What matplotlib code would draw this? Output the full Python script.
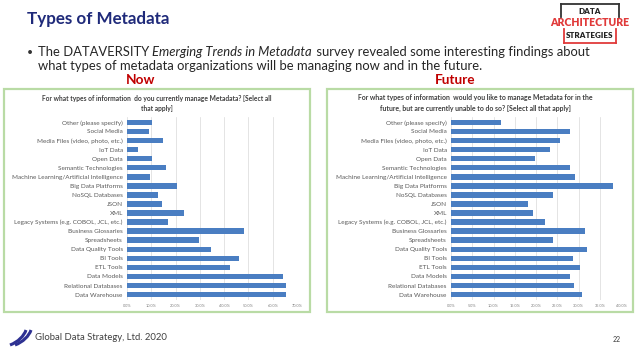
import matplotlib
matplotlib.use("Agg")
import matplotlib.pyplot as plt
from matplotlib.ticker import MultipleLocator, FuncFormatter
from matplotlib.lines import Line2D
from matplotlib.patches import Rectangle, PathPatch
from matplotlib.path import Path

W, H = 638, 359
DPI = 100

categories = [
    "Other (please specify)", "Social Media", "Media Files (video, photo, etc.)",
    "IoT Data", "Open Data", "Semantic Technologies",
    "Machine Learning/Artificial Intelligence", "Big Data Platforms",
    "NoSQL Databases", "JSON", "XML", "Legacy Systems (e.g. COBOL, JCL, etc.)",
    "Business Glossaries", "Spreadsheets", "Data Quality Tools", "BI Tools",
    "ETL Tools", "Data Models", "Relational Databases", "Data Warehouse",
]
now_values = [10.4, 8.9, 14.8, 4.6, 10.1, 15.9, 9.6, 20.5, 12.8, 14.3, 23.3, 16.9,
              48.0, 29.8, 34.7, 46.2, 42.6, 64.2, 65.6, 65.6]
future_values = [11.7, 28.1, 25.6, 23.4, 19.8, 28.1, 29.1, 38.0, 24.0, 18.0, 19.3, 22.1,
                 31.6, 24.0, 32.1, 28.6, 30.4, 28.1, 29.0, 30.9]

now_title = "For what types of information  do you currently manage Metadata? [Select all\nthat apply]"
future_title = "For what types of information  would you like to manage Metadata for in the\nfuture, but are currently unable to do so? [Select all that apply]"

FONT = ["Lato", "DejaVu Sans"]
plt.rcParams["font.family"] = FONT

fig = plt.figure(figsize=(W / DPI, H / DPI), dpi=DPI)
fig.patch.set_facecolor("white")


def fx(x):
    return x / W


def fy(y):
    return 1 - y / H


def rect(x0, y0, x1, y1):
    return [fx(x0), fy(y1), (x1 - x0) / W, (y1 - y0) / H]


renderer = fig.canvas.get_renderer()


def fit_text(x, y, s, width, size0=10, **kw):
    t = fig.text(fx(x), fy(y), s, fontsize=size0, **kw)
    bb = t.get_window_extent(renderer=renderer)
    t.set_fontsize(size0 * width / bb.width)
    return t


# Title
fit_text(27, 19, "Types of Metadata", 143, color="#1f2a7a", fontweight="bold",
         va="center", ha="left")

# Bullet text (line 1 in segments, to get the italic part)
segments = [("The DATAVERSITY ", "normal"), ("Emerging Trends in Metadata", "italic"),
            (" survey revealed some interesting findings about", "normal")]
probe = []
total = 0
for s, st in segments:
    t = fig.text(0, 0, s.replace(" ", "\u00a0"), fontsize=10, style=st)
    w = t.get_window_extent(renderer=renderer).width
    probe.append(w)
    total += w
    t.remove()
fs = 10 * 552 / total
x = 38
for (s, st), w in zip(segments, probe):
    fig.text(fx(x), fy(52), s.replace(" ", "\u00a0"), fontsize=fs, style=st, color="#262626",
             va="center", ha="left")
    x += w * fs / 10
fig.text(fx(27), fy(52), "•", fontsize=fs * 0.8, color="#333333", va="center", ha="left")
fig.text(fx(38), fy(66), "what types of metadata organizations will be managing now and in the future.",
         fontsize=fs, color="#262626", va="center", ha="left")

# Now / Future
fig.text(fx(141), fy(80), "Now", fontsize=fs * 1.05, color="#c00000", fontweight="bold",
         va="center", ha="center")
fig.text(fx(455), fy(80), "Future", fontsize=fs * 1.05, color="#c00000", fontweight="bold",
         va="center", ha="center")

# Frames
for (x0, x1) in [(4, 310), (327, 633)]:
    fig.patches.append(Rectangle((fx(x0), fy(312)), (x1 - x0) / W, (312 - 89) / H,
                                 transform=fig.transFigure, fill=False,
                                 edgecolor="#b9dba5", linewidth=1.6))

# Chart titles
fit_text(157, 103, now_title, 227, color="#404040", fontweight="bold", ha="center",
         va="center", linespacing=1.5)
fit_text(475, 103, future_title, 234, color="#404040", fontweight="bold", ha="center",
         va="center", linespacing=1.5)


def draw(ax_rect, values, xmax, step):
    ax = fig.add_axes(ax_rect)
    y = list(range(len(categories)))
    ax.barh(y, [v / 100 for v in values], height=0.6, color="#4a7ec2", zorder=3)
    ax.set_yticks(y)
    ax.set_yticklabels(categories, fontsize=4.6, color="#595959")
    ax.set_ylim(len(categories) - 0.4, -0.6)
    ax.set_xlim(0, xmax)
    ax.xaxis.set_major_locator(MultipleLocator(step))
    ax.xaxis.set_major_formatter(FuncFormatter(lambda v, p: f"{v * 100:.1f}%"))
    ax.tick_params(axis="x", labelsize=2.8, colors="#7f7f7f", length=0, pad=3)
    ax.tick_params(axis="y", length=0, pad=3)
    ax.grid(axis="x", color="#d9d9d9", linewidth=0.5, zorder=0)
    for s in ax.spines.values():
        s.set_visible(False)
    ax.set_facecolor("none")
    return ax


draw(rect(127, 117, 297, 300), now_values, 0.70, 0.10)
draw(rect(451, 117, 621, 300), future_values, 0.40, 0.05)

# Logo (top right)
fig.text(fx(590), fy(11), "DATA", fontsize=5.8, fontweight="heavy", color="#222222",
         ha="center", va="center")
fig.text(fx(590), fy(23), "ARCHITECTURE", fontsize=7.6, fontweight="heavy", color="#e03a3a",
         ha="center", va="center")
fig.text(fx(590), fy(35), "STRATEGIES", fontsize=5.8, fontweight="heavy", color="#222222",
         ha="center", va="center")
for xs, ys, c in [
    ([561, 561], [4, 17], "#333333"),
    ([619, 619], [4, 17], "#333333"),
    ([561, 619], [4, 4], "#333333"),
    ([564, 564], [29, 43], "#e03a3a"),
    ([616, 616], [29, 43], "#e03a3a"),
    ([564, 616], [43, 43], "#e03a3a"),
]:
    fig.add_artist(Line2D([fx(v) for v in xs], [fy(v) for v in ys], color=c, linewidth=1.3,
                          transform=fig.transFigure))

# Footer
for dx in (0, 5):
    verts = [(10 + dx, 345), (18 + dx, 342), (24 + dx, 336), (26 + dx, 330)]
    p = Path([(fx(a), fy(b)) for a, b in verts],
             [Path.MOVETO, Path.CURVE4, Path.CURVE4, Path.CURVE4])
    fig.patches.append(PathPatch(p, transform=fig.transFigure, fill=False,
                                 edgecolor="#2e3192", linewidth=2.2))
fig.text(fx(35), fy(338), "Global Data Strategy, Ltd. 2020", fontsize=6.8, color="#404040",
         ha="left", va="center")
fig.text(fx(617), fy(339), "22", fontsize=5, color="#404040", ha="center", va="center")

fig.savefig("out.png", dpi=DPI)
